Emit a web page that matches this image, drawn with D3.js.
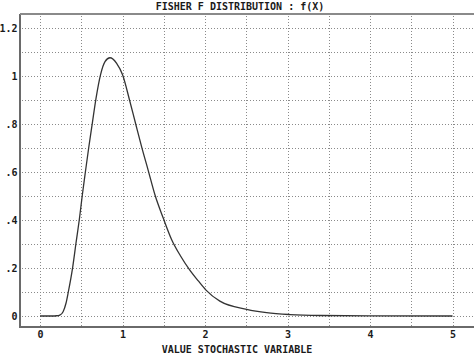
<!DOCTYPE html>
<html>
<head>
<meta charset="utf-8">
<script src="https://cdn.jsdelivr.net/npm/d3@7"></script>
<style>
  html, body { margin: 0; padding: 0; background: #fff; }
  svg { display: block; }
  text { font-family: "DejaVu Sans Mono", "Liberation Mono", monospace; font-weight: bold; fill: #1a1a1a; }
</style>
</head>
<body>
<script>
const titleText = "FISHER F DISTRIBUTION : f(X)";
const xAxisLabel = "VALUE STOCHASTIC VARIABLE";
const xTickValues = [0, 1, 2, 3, 4, 5];
const xTickLabels = ["0", "1", "2", "3", "4", "5"];
const yTickValues = [0, 0.2, 0.4, 0.6, 0.8, 1, 1.2];
const yTickLabels = ["0", ".2", ".4", ".6", ".8", "1", "1.2"];
const xGridValues = [0, 0.5, 1, 1.5, 2, 2.5, 3, 3.5, 4, 4.5, 5];
const yGridValues = [0, 0.1, 0.2, 0.3, 0.4, 0.5, 0.6, 0.7, 0.8, 0.9, 1, 1.1, 1.2];

const xValues = [0, 0.15, 0.2, 0.24, 0.28, 0.315, 0.343, 0.396, 0.436, 0.477, 0.513, 0.55, 0.59, 0.634, 0.679, 0.735, 0.788, 0.848, 0.929, 1.002, 1.085, 1.16, 1.232, 1.313, 1.394, 1.495, 1.596, 1.70, 1.818, 1.919, 2.012, 2.18, 2.505, 2.747, 3.03, 3.4, 4.0, 5.0];
const fValues = [0, 0, 0.001, 0.004, 0.018, 0.053, 0.10, 0.203, 0.303, 0.403, 0.504, 0.60, 0.70, 0.803, 0.907, 1.007, 1.06, 1.076, 1.053, 1.004, 0.90, 0.80, 0.705, 0.605, 0.504, 0.407, 0.318, 0.252, 0.19, 0.146, 0.108, 0.062, 0.028, 0.014, 0.006, 0.002, 0.0005, 0];

const W = 474, H = 356;
const frameLeft = 20, frameTop = 14, frameBottom = 327;

const svg = d3.select("body").append("svg").attr("width", W).attr("height", H);

const x = d3.scaleLinear().domain([0, 5]).range([40, 452.5]);
const y = d3.scaleLinear().domain([0, 1.2]).range([316, 28]);

// grid
const grid = svg.append("g").attr("stroke", "#8a8a8a").attr("stroke-width", 1).attr("stroke-dasharray", "1,2");
grid.selectAll("line.v").data(xGridValues).join("line")
  .attr("class", "v")
  .attr("x1", d => Math.round(x(d)) + 0.5).attr("x2", d => Math.round(x(d)) + 0.5)
  .attr("y1", frameTop + 2).attr("y2", frameBottom);
grid.selectAll("line.h").data(yGridValues).join("line")
  .attr("class", "h")
  .attr("x1", frameLeft + 2).attr("x2", W)
  .attr("y1", d => Math.round(y(d)) + 0.5).attr("y2", d => Math.round(y(d)) + 0.5);

// frame
svg.append("line").attr("x1", frameLeft).attr("x2", frameLeft).attr("y1", frameTop).attr("y2", frameBottom + 1)
  .attr("stroke", "#6a6a6a").attr("stroke-width", 2);
svg.append("line").attr("x1", frameLeft).attr("x2", W).attr("y1", frameTop).attr("y2", frameTop)
  .attr("stroke", "#8a8a8a").attr("stroke-width", 2);
svg.append("line").attr("x1", frameLeft).attr("x2", W).attr("y1", frameBottom).attr("y2", frameBottom)
  .attr("stroke", "#6a6a6a").attr("stroke-width", 2);

// axes (labels only) via d3 axes
const xAxis = d3.axisBottom(x).tickValues(xTickValues).tickFormat((d, i) => xTickLabels[i]).tickSize(0).tickPadding(0);
const gx = svg.append("g").attr("transform", "translate(0,331)").call(xAxis);
gx.select(".domain").remove();
gx.selectAll("text").attr("font-size", 10).attr("font-family", null).attr("fill", "#1a1a1a").attr("dy", "0.71em");

const yAxis = d3.axisLeft(y).tickValues(yTickValues).tickFormat((d, i) => yTickLabels[i]).tickSize(0).tickPadding(0);
const gy = svg.append("g").attr("transform", "translate(17.5,0)").call(yAxis);
gy.select(".domain").remove();
gy.selectAll("text").attr("font-size", 10).attr("font-family", null).attr("fill", "#1a1a1a");

// curve
const pts = xValues.map((v, i) => [v, fValues[i]]);
const line = d3.line().x(d => x(d[0])).y(d => Math.min(y(d[1]), y(0))).curve(d3.curveMonotoneX);
svg.append("path").datum(pts).attr("d", line)
  .attr("fill", "none").attr("stroke", "#333").attr("stroke-width", 1.3);

// titles
svg.append("text").attr("x", 240).attr("y", 10).attr("text-anchor", "middle").attr("font-size", 10).text(titleText);
svg.append("text").attr("x", 237).attr("y", 353).attr("text-anchor", "middle").attr("font-size", 10).text(xAxisLabel);
</script>
</body>
</html>
